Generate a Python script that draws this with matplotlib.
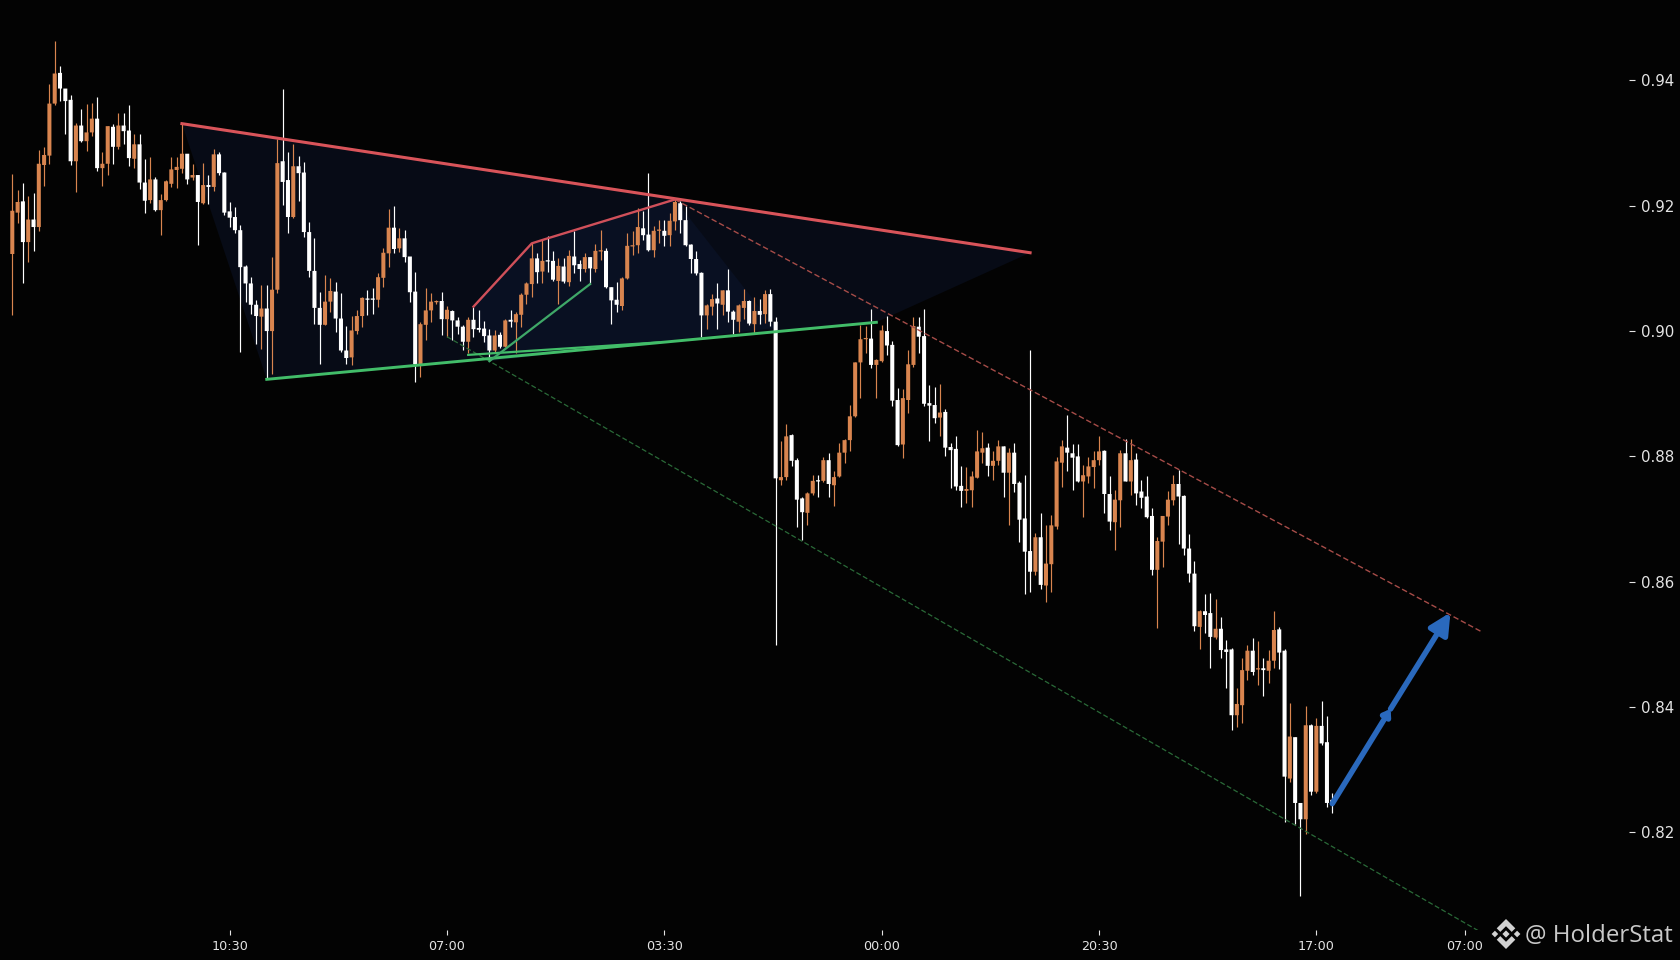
"""Candlestick chart with a falling wedge, channel lines and a projected move."""

import matplotlib
matplotlib.use('Agg')
import matplotlib.pyplot as plt
import numpy as np
from matplotlib.patches import Polygon

opens = [
    .9123, .9189, .9207, .9142, .9178, .9166, .9265, .9280, .9363, .9412,
    .9387, .9369, .9271, .9328, .9303, .9317, .9339, .9260, .9267, .9326,
    .9294, .9328, .9320, .9275, .9298, .9237, .9209, .9242, .9193, .9209,
    .9235, .9257, .9259, .9283, .9245, .9249, .9204, .9233, .9230, .9282,
    .9253, .9191, .9182, .9161, .9103, .9076, .9042, .9023, .9036, .9000,
    .9066, .9271, .9241, .9182, .9263, .9253, .9158, .9096, .9037, .9010,
    .9047, .9063, .9020, .8969, .8958, .9000, .9024, .9052, .9052, .9050,
    .9085, .9124, .9165, .9132, .9148, .9119, .9063, .8947, .9010, .9033,
    .9046, .9048, .9019, .9032, .9017, .9007, .8983, .9018, .9005, .9004,
    .8993, .8969, .8994, .8975, .9018, .9014, .9026, .9058, .9075, .9116,
    .9095, .9113, .9112, .9080, .9103, .9078, .9119, .9107, .9099, .9118,
    .9099, .9127, .9128, .9070, .9050, .9040, .9084, .9135, .9137, .9164,
    .9154, .9129, .9160, .9160, .9153, .9175, .9204, .9177, .9138, .9115,
    .9093, .9025, .9039, .9052, .9042, .9065, .9031, .9015, .9037, .9048,
    .9011, .9032, .9027, .9059, .9015, .8762, .8767, .8834, .8794, .8733,
    .8710, .8741, .8762, .8761, .8794, .8754, .8768, .8806, .8826, .8864,
    .8950, .8987, .8988, .8946, .8952, .9000, .8978, .8890, .8819, .8890,
    .8946, .9007, .8992, .8885, .8882, .8862, .8871, .8815, .8812, .8753,
    .8745, .8746, .8766, .8806, .8814, .8785, .8793, .8816, .8774, .8806,
    .8758, .8701, .8649, .8616, .8671, .8594, .8628, .8688, .8790, .8814,
    .8805, .8800, .8760, .8768, .8783, .8794, .8809, .8740, .8695, .8730,
    .8805, .8760, .8795, .8744, .8736, .8705, .8619, .8664, .8704, .8730,
    .8756, .8737, .8653, .8613, .8528, .8553, .8550, .8511, .8525, .8492,
    .8492, .8387, .8403, .8458, .8490, .8460, .8462, .8458, .8474, .8524,
    .8490, .8286, .8352, .8247, .8221, .8371, .8265, .8370, .8344, .8252,
]
highs = [
    .9251, .9225, .9237, .9215, .9221, .9289, .9294, .9395, .9463, .9423,
    .9387, .9376, .9332, .9355, .9362, .9364, .9373, .9285, .9328, .9331,
    .9348, .9348, .9360, .9314, .9314, .9275, .9277, .9246, .9219, .9241,
    .9277, .9277, .9331, .9283, .9266, .9249, .9268, .9249, .9290, .9285,
    .9254, .9206, .9198, .9169, .9106, .9086, .9049, .9073, .9073, .9118,
    .9307, .9387, .9286, .9299, .9279, .9270, .9174, .9148, .9062, .9090,
    .9084, .9078, .9061, .9008, .9024, .9033, .9054, .9066, .9068, .9093,
    .9132, .9195, .9199, .9165, .9162, .9119, .9095, .9015, .9068, .9061,
    .9050, .9063, .9040, .9034, .9023, .9010, .9023, .9039, .9034, .9016,
    .9004, .9001, .8999, .9020, .9034, .9031, .9060, .9079, .9140, .9124,
    .9145, .9151, .9127, .9117, .9116, .9129, .9159, .9113, .9124, .9119,
    .9139, .9162, .9132, .9071, .9079, .9086, .9157, .9159, .9196, .9191,
    .9253, .9167, .9178, .9177, .9188, .9210, .9207, .9199, .9139, .9127,
    .9095, .9044, .9059, .9076, .9066, .9099, .9034, .9044, .9067, .9050,
    .9055, .9051, .9066, .9067, .9023, .8825, .8851, .8836, .8798, .8736,
    .8744, .8770, .8770, .8799, .8805, .8776, .8821, .8827, .8882, .8951,
    .9010, .9008, .9035, .8956, .9010, .9024, .8984, .8909, .8907, .8970,
    .9023, .9022, .9036, .8914, .8910, .8915, .8876, .8821, .8833, .8784,
    .8783, .8776, .8842, .8839, .8822, .8808, .8826, .8817, .8813, .8821,
    .8760, .8770, .8970, .8677, .8709, .8691, .8707, .8799, .8826, .8866,
    .8820, .8820, .8786, .8799, .8808, .8833, .8810, .8768, .8746, .8810,
    .8827, .8827, .8805, .8762, .8768, .8717, .8672, .8705, .8745, .8770,
    .8778, .8738, .8676, .8633, .8555, .8580, .8582, .8572, .8544, .8507,
    .8494, .8430, .8478, .8499, .8510, .8506, .8478, .8491, .8553, .8528,
    .8492, .8406, .8353, .8247, .8402, .8373, .8383, .8410, .8385, .8263,
]
lows = [
    .9025, .9172, .9076, .9110, .9127, .9159, .9231, .9267, .9360, .9367,
    .9315, .9265, .9222, .9302, .9288, .9312, .9256, .9231, .9249, .9267,
    .9291, .9299, .9263, .9260, .9227, .9189, .9204, .9192, .9153, .9207,
    .9230, .9228, .9253, .9235, .9241, .9137, .9203, .9203, .9224, .9249,
    .9185, .9166, .9156, .8967, .9046, .9028, .8980, .8972, .8924, .8931,
    .9060, .9201, .9156, .9181, .9208, .9150, .9086, .9011, .8948, .9009,
    .9030, .8999, .8967, .8948, .8946, .8995, .9007, .9025, .9028, .9038,
    .9070, .9102, .9125, .9126, .9110, .9046, .8918, .8926, .8986, .9015,
    .9044, .8993, .8991, .8986, .8996, .8970, .8965, .8991, .8999, .8983,
    .8954, .8967, .8973, .8974, .9007, .8965, .9007, .9044, .9054, .9076,
    .9076, .9095, .9080, .9043, .9076, .9072, .9092, .9080, .9095, .9076,
    .9095, .9113, .9068, .9012, .9031, .9034, .9083, .9121, .9125, .9145,
    .9127, .9119, .9140, .9135, .9135, .9161, .9156, .9135, .9093, .9090,
    .8991, .9004, .9026, .9004, .9026, .9015, .8995, .8999, .9020, .9010,
    .8996, .9012, .9013, .9008, .8499, .8754, .8762, .8784, .8687, .8667,
    .8691, .8739, .8736, .8759, .8736, .8721, .8767, .8789, .8808, .8863,
    .8893, .8965, .8941, .8893, .8951, .8962, .8880, .8817, .8797, .8869,
    .8943, .8965, .8880, .8825, .8853, .8833, .8800, .8749, .8746, .8719,
    .8725, .8719, .8765, .8789, .8769, .8762, .8786, .8736, .8690, .8744,
    .8664, .8581, .8584, .8611, .8589, .8568, .8584, .8684, .8751, .8777,
    .8746, .8759, .8704, .8757, .8749, .8786, .8709, .8683, .8651, .8687,
    .8760, .8739, .8722, .8717, .8701, .8611, .8526, .8624, .8691, .8722,
    .8661, .8643, .8600, .8522, .8492, .8518, .8462, .8508, .8479, .8430,
    .8363, .8369, .8374, .8444, .8452, .8435, .8418, .8438, .8462, .8460,
    .8217, .8281, .8214, .8098, .8197, .8260, .8263, .8339, .8241, .8231,
]
closes = [
    .9192, .9206, .9142, .9178, .9166, .9267, .9281, .9363, .9411, .9387,
    .9367, .9271, .9328, .9303, .9317, .9339, .9260, .9267, .9327, .9294,
    .9328, .9319, .9276, .9298, .9237, .9208, .9242, .9193, .9209, .9239,
    .9258, .9262, .9283, .9242, .9249, .9206, .9233, .9230, .9282, .9252,
    .9189, .9181, .9161, .9102, .9076, .9042, .9024, .9036, .9000, .9066,
    .9268, .9238, .9182, .9263, .9252, .9158, .9096, .9037, .9010, .9047,
    .9064, .9020, .8969, .8957, .9001, .9024, .9053, .9050, .9050, .9086,
    .9125, .9165, .9131, .9148, .9118, .9062, .8947, .9011, .9033, .9047,
    .9047, .9019, .9034, .9017, .9007, .8983, .9018, .9003, .9002, .8992,
    .8969, .8993, .8975, .9017, .9015, .9027, .9058, .9076, .9116, .9094,
    .9112, .9111, .9082, .9104, .9079, .9120, .9105, .9099, .9118, .9100,
    .9128, .9128, .9070, .9049, .9042, .9084, .9136, .9137, .9166, .9153,
    .9129, .9160, .9161, .9152, .9176, .9206, .9177, .9137, .9115, .9092,
    .9025, .9041, .9051, .9044, .9065, .9031, .9018, .9041, .9048, .9012,
    .9032, .9026, .9059, .9015, .8765, .8767, .8832, .8793, .8731, .8711,
    .8741, .8761, .8760, .8794, .8756, .8767, .8806, .8826, .8864, .8950,
    .8987, .8988, .8946, .8954, .9001, .8977, .8889, .8818, .8893, .8947,
    .9008, .8991, .8884, .8881, .8861, .8870, .8814, .8810, .8752, .8745,
    .8748, .8768, .8808, .8813, .8785, .8793, .8816, .8774, .8806, .8756,
    .8699, .8648, .8616, .8671, .8595, .8629, .8690, .8792, .8816, .8806,
    .8798, .8760, .8770, .8784, .8794, .8808, .8740, .8696, .8731, .8805,
    .8760, .8794, .8741, .8734, .8703, .8619, .8665, .8705, .8731, .8756,
    .8736, .8653, .8613, .8529, .8553, .8547, .8512, .8525, .8491, .8488,
    .8387, .8405, .8459, .8490, .8456, .8462, .8459, .8474, .8523, .8487,
    .8289, .8353, .8247, .8221, .8371, .8265, .8370, .8342, .8247, .8246,
]

x_ticks = [41, 82, 123, 164, 205, 246, 274]
x_labels = ['10:30', '07:00', '03:30', '00:00', '20:30', '17:00', '07:00']
y_ticks = [0.82, 0.84, 0.86, 0.88, 0.90, 0.92, 0.94]

# trend lines as (candle index, price)
red_top = [(32, .9331), (192, .9125)]
green_base = [(48, .8923), (163, .9014)]
red_wedge = [(87, .9039), (98, .9140), (101, .9148), (125, .9210)]
green_wedge_low = [(86, .8962), (122, .8982)]
green_wedge_diag = [(90, .8952), (109, .9075)]
red_channel = [(125, .9210), (277, .8521)]
green_channel = [(82, .8991), (277, .8041)]
outer_fill = [(32, .9331), (192, .9125), (163, .9014), (48, .8923)]
inner_fill = [(87, .9039), (98, .9140), (101, .9148), (125, .9210), (144, .9005), (90, .8952)]
move_start = (249, .8246)
move_mid = (260, .8397)
move_end = (271.3, .8551)

BG = '#030303'
ORANGE = '#d9854f'
TEXT = '#e4e4e4'


def draw_line(ax, points, **kwargs):
    xs, ys = zip(*points)
    ax.plot(xs, ys, zorder=4, **kwargs)


def draw_logo(fig):
    """Watermark diamond, built from small polygons in its own axes."""
    logo = fig.add_axes([1491 / 1680, 1 - 949 / 960, 30 / 1680, 30 / 960])
    logo.set_xlim(-1, 1)
    logo.set_ylim(-1, 1)
    logo.axis('off')
    grey = '#d2d2d2'
    for cx, cy, r in [(0, 0, .24), (-.74, 0, .22), (.74, 0, .22)]:
        logo.add_patch(Polygon([(cx - r, cy), (cx, cy + r), (cx + r, cy), (cx, cy - r)], color=grey, lw=0))
    for sign in (1, -1):
        logo.add_patch(Polygon(
            [(-.62, sign * .38), (0, sign * 1.0), (.62, sign * .38), (.38, sign * .14),
             (0, sign * .52), (-.38, sign * .14)], color=grey, lw=0))


fig = plt.figure(figsize=(16.8, 9.6), dpi=100, facecolor=BG)
ax = fig.add_axes([0, 1 - 930 / 960, 1629 / 1680, 930 / 960], facecolor=BG)

idx = np.arange(len(opens))
o, h, l, c = map(np.array, (opens, highs, lows, closes))
up = c >= o
colors = np.where(up, ORANGE, '#ffffff')

ax.add_patch(Polygon(outer_fill, closed=True, facecolor='#070b16', edgecolor='none', zorder=1))
ax.add_patch(Polygon(inner_fill, closed=True, facecolor='#091022', edgecolor='none', zorder=1.5))

ax.vlines(idx, l, h, colors=colors, linewidth=0.85, zorder=3)
bodies = ax.bar(idx, np.maximum(np.abs(c - o), 0.0002), bottom=np.minimum(o, c), width=0.76,
                color=colors, linewidth=0, zorder=3)
for body in bodies:
    body.set_snap(False)  # keeps every body the same width

draw_line(ax, red_channel, color='#a64c48', linewidth=1.0, linestyle=(0, (4, 2)))
draw_line(ax, green_channel, color='#2a6a38', linewidth=0.9, linestyle=(0, (4, 2)))
draw_line(ax, red_top, color='#d9545a', linewidth=2.2)
draw_line(ax, green_base, color='#42bd69', linewidth=2.1)
draw_line(ax, green_wedge_low, color='#42bd69', linewidth=1.6)
draw_line(ax, green_wedge_diag, color='#3fa868', linewidth=1.6)
draw_line(ax, red_wedge, color='#d0505a', linewidth=1.7)

ax.annotate('', xy=move_mid, xytext=move_start, zorder=5,
            arrowprops=dict(arrowstyle='-|>,head_width=0.25,head_length=0.35', color='#2a69bd',
                            lw=4.0, mutation_scale=10, shrinkA=0, shrinkB=0))
ax.annotate('', xy=move_end, xytext=move_mid, zorder=5,
            arrowprops=dict(arrowstyle='-|>,head_width=0.45,head_length=0.9', color='#2a69bd',
                            lw=4.0, mutation_scale=14, shrinkA=0, shrinkB=0))

# limits picked so candle 0 sits 12 px in and the price scale lands on the reference
ax.set_xlim(-2.32, 304.98)
ax.set_ylim(.80443, .95283)
for spine in ax.spines.values():
    spine.set_visible(False)
ax.yaxis.tick_right()
ax.set_xticks(x_ticks, x_labels)
ax.set_yticks(y_ticks, [f'{v:.2f}' for v in y_ticks])
ax.tick_params(axis='x', colors=TEXT, labelsize=9.2, length=3.6, width=0.8, pad=3.5)
ax.tick_params(axis='y', colors=TEXT, labelsize=10.8, length=4.3, width=0.8, pad=4)

fig.text(1525 / 1680, 1 - 936 / 960, '@ HolderStat', color='#c9c9c9', fontsize=17.3,
         family='Open Sans', va='center', ha='left')
draw_logo(fig)

fig.savefig('out.png', facecolor=BG)
